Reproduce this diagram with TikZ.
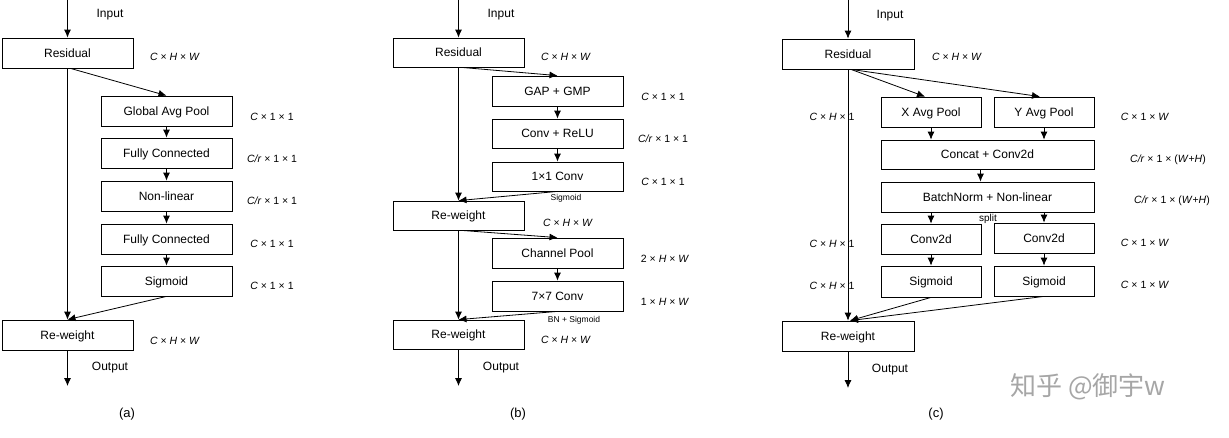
\documentclass[tikz,border=0pt]{standalone}
\usepackage{fontspec}
\setmainfont{Liberation Sans}
\newfontfamily\cjk{Noto Sans CJK SC}
\usetikzlibrary{arrows.meta}
\begin{document}
\begin{tikzpicture}[x=1pt,y=-1pt,
  box/.style={draw,line width=0.8pt,inner sep=0pt,font=\fontsize{12}{14}\selectfont,text depth=0pt},
  lab/.style={font=\fontsize{10.5}{12}\selectfont,inner sep=0pt},
  sm/.style={font=\fontsize{8.5}{10}\selectfont,inner sep=0pt},
  ar/.style={line width=0.8pt,-{Latex[length=8pt,width=7pt]}},
  ln/.style={line width=0.8pt}]
\useasboundingbox (0,0) rectangle (1229,437);
\newcommand{\dimC}[3]{\textit{#1}\,×\,#2\,×\,#3}
% ---------- (a)
\node[box,minimum width=131pt,minimum height=30pt] (aR) at (67.5,53) {Residual};
\node[box,minimum width=131pt,minimum height=30pt] (a1) at (166.5,111) {Global Avg Pool};
\node[box,minimum width=131pt,minimum height=30pt] (a2) at (166.5,153) {Fully Connected};
\node[box,minimum width=131pt,minimum height=30pt] (a3) at (166.5,196) {Non-linear};
\node[box,minimum width=131pt,minimum height=30pt] (a4) at (166.5,239) {Fully Connected};
\node[box,minimum width=131pt,minimum height=30pt] (a5) at (166.5,281) {Sigmoid};
\node[box,minimum width=131pt,minimum height=30pt] (aW) at (67.5,335) {Re-weight};
\coordinate (aIn) at (67.5,0); \coordinate (aOut) at (67.5,386);
\draw[ar] (aIn) -- (aR.north);
\draw[ar] (aR.south) -- (aW.north);
\draw[ar] ([xshift=3pt]aR.south) -- (a1.north);
\draw[ar] (a1) -- (a2); \draw[ar] (a2) -- (a3); \draw[ar] (a3) -- (a4); \draw[ar] (a4) -- (a5);
\draw[ar] (a5.south) -- (aW.north);
\draw[ar] (aW.south) -- (aOut);
\node[lab] (t1) at (110,15) {\fontsize{12}{14}\selectfont Input};
\node[lab] (t2) at (110,368) {\fontsize{12}{14}\selectfont Output};
\node[lab] (t3) at (127,414) {\fontsize{13}{15}\selectfont (a)};
\node[lab] (t4) at (175,57) {\textit{C} × \textit{H} × \textit{W}};
\node[lab] (t5) at (272,117) {\textit{C} × 1 × 1};
\node[lab] (t6) at (272,159) {\textit{C/r} × 1 × 1};
\node[lab] (t7) at (272,201) {\textit{C/r} × 1 × 1};
\node[lab] (t8) at (272,244) {\textit{C} × 1 × 1};
\node[lab] (t9) at (272,286) {\textit{C} × 1 × 1};
\node[lab] (t10) at (175,341) {\textit{C} × \textit{H} × \textit{W}};
% ---------- (b)
\node[box,minimum width=131pt,minimum height=29pt] (bR) at (458.5,52.5) {Residual};
\node[box,minimum width=131pt,minimum height=30pt] (b1) at (557.5,91) {GAP + GMP};
\node[box,minimum width=131pt,minimum height=29pt] (b2) at (557.5,133.5) {Conv + ReLU};
\node[box,minimum width=131pt,minimum height=29pt] (b3) at (557.5,176.5) {1×1 Conv};
\node[box,minimum width=131pt,minimum height=29pt] (bW1) at (458.5,215.5) {Re-weight};
\node[box,minimum width=131pt,minimum height=30pt] (b4) at (557.5,253) {Channel Pool};
\node[box,minimum width=131pt,minimum height=30pt] (b5) at (557.5,296) {7×7 Conv};
\node[box,minimum width=131pt,minimum height=29pt] (bW2) at (458.5,334.5) {Re-weight};
\coordinate (bIn) at (458.5,0); \coordinate (bOut) at (458.5,386);
\draw[ar] (bIn) -- (bR.north);
\draw[ar] (bR.south) -- (bW1.north);
\draw[ar] ([xshift=3pt]bR.south) -- (b1.north);
\draw[ar] (b1) -- (b2); \draw[ar] (b2) -- (b3);
\draw[ar] (b3.south) -- (bW1.north);
\draw[ar] (bW1.south) -- (bW2.north);
\draw[ar] ([xshift=3pt]bW1.south) -- (b4.north);
\draw[ar] (b4) -- (b5);
\draw[ar] (b5.south) -- (bW2.north);
\draw[ar] (bW2.south) -- (bOut);
\node[lab] (u1) at (501,15) {\fontsize{12}{14}\selectfont Input};
\node[lab] (u2) at (501,368) {\fontsize{12}{14}\selectfont Output};
\node[lab] (u3) at (518,414) {\fontsize{13}{15}\selectfont (b)};
\node[lab] (u4) at (566,57) {\textit{C} × \textit{H} × \textit{W}};
\node[lab] (u5) at (663,97) {\textit{C} × 1 × 1};
\node[lab] (u6) at (663,139) {\textit{C/r} × 1 × 1};
\node[lab] (u7) at (663,182) {\textit{C} × 1 × 1};
\node[sm] (u8) at (566,198) {Sigmoid};
\node[lab] (u9) at (568,223) {\textit{C} × \textit{H} × \textit{W}};
\node[lab] (u10) at (665,259) {2 × \textit{H} × \textit{W}};
\node[lab] (u11) at (665,302) {1 × \textit{H} × \textit{W}};
\node[sm] (u12) at (574,320) {BN + Sigmoid};
\node[lab] (u13) at (566,340) {\textit{C} × \textit{H} × \textit{W}};
% ---------- (c)
\node[box,minimum width=132pt,minimum height=30pt] (cR) at (848,54) {Residual};
\node[box,minimum width=100pt,minimum height=30pt] (cX) at (931,112) {X Avg Pool};
\node[box,minimum width=100pt,minimum height=30pt] (cY) at (1044,112) {Y Avg Pool};
\node[box,minimum width=213pt,minimum height=29pt] (cC) at (987.5,154.5) {Concat + Conv2d};
\node[box,minimum width=213pt,minimum height=30pt] (cB) at (987.5,197) {BatchNorm + Non-linear};
\node[box,minimum width=100pt,minimum height=30pt] (cL1) at (931,239) {Conv2d};
\node[box,minimum width=100pt,minimum height=30pt] (cR1) at (1044,238) {Conv2d};
\node[box,minimum width=100pt,minimum height=31pt] (cL2) at (931,281.5) {Sigmoid};
\node[box,minimum width=100pt,minimum height=30pt] (cR2) at (1044,281) {Sigmoid};
\node[box,minimum width=132pt,minimum height=30pt] (cW) at (848,336) {Re-weight};
\coordinate (cIn) at (848,0); \coordinate (cOut) at (848,388);
\draw[ar] (cIn) -- (cR.north);
\draw[ar] (cR.south) -- (cW.north);
\draw[ar] ([xshift=3pt]cR.south) -- ([xshift=-6pt]cX.north);
\draw[ar] ([xshift=3pt]cR.south) -- ([xshift=-4pt]cY.north);
\draw[ar] (cX.south) -- (cX.south|-cC.north);
\draw[ar] (cY.south) -- (cY.south|-cC.north);
\draw[ar] ([xshift=-7pt]cC.south) -- ([xshift=-7pt]cB.north);
\draw[ar] (cB.south-|cL1.north) -- (cL1.north);
\draw[ar] (cB.south-|cR1.north) -- (cR1.north);
\draw[ar] (cL1) -- (cL2); \draw[ar] (cR1) -- (cR2);
\draw[ar] (cL2.south) -- ([xshift=2pt]cW.north);
\draw[ar] (cR2.south) -- ([xshift=2pt]cW.north);
\draw[ar] (cW.south) -- (cOut);
\node[lab] (v1) at (890,16) {\fontsize{12}{14}\selectfont Input};
\node[lab] (v2) at (890,370) {\fontsize{12}{14}\selectfont Output};
\node[lab] (v3) at (936,414) {\fontsize{13}{15}\selectfont (c)};
\node[lab] (v4) at (957,57) {\textit{C} × \textit{H} × \textit{W}};
\node[lab] (v5) at (832,117) {\textit{C} × \textit{H} × 1};
\node[lab] (v6) at (832,244) {\textit{C} × \textit{H} × 1};
\node[lab] (v7) at (832,286) {\textit{C} × \textit{H} × 1};
\node[lab] (v8) at (1145,117) {\textit{C} × 1 × \textit{W}};
\node[lab] (v9) at (1168,160) {\textit{C/r} × 1 × (\textit{W}+\textit{H})};
\node[lab] (v10) at (1172,201) {\textit{C/r} × 1 × (\textit{W}+\textit{H})};
\node[lab] (v11) at (1145,243) {\textit{C} × 1 × \textit{W}};
\node[lab] (v12) at (1145,285) {\textit{C} × 1 × \textit{W}};
\node[sm,font=\fontsize{10}{12}\selectfont] (v13) at (988,219) {split};
\node[inner sep=0pt,text=black!35,font=\cjk\fontsize{26}{30}\selectfont] (wm) at (1088,387) {知乎 @御宇w};
\end{tikzpicture}
\end{document}
